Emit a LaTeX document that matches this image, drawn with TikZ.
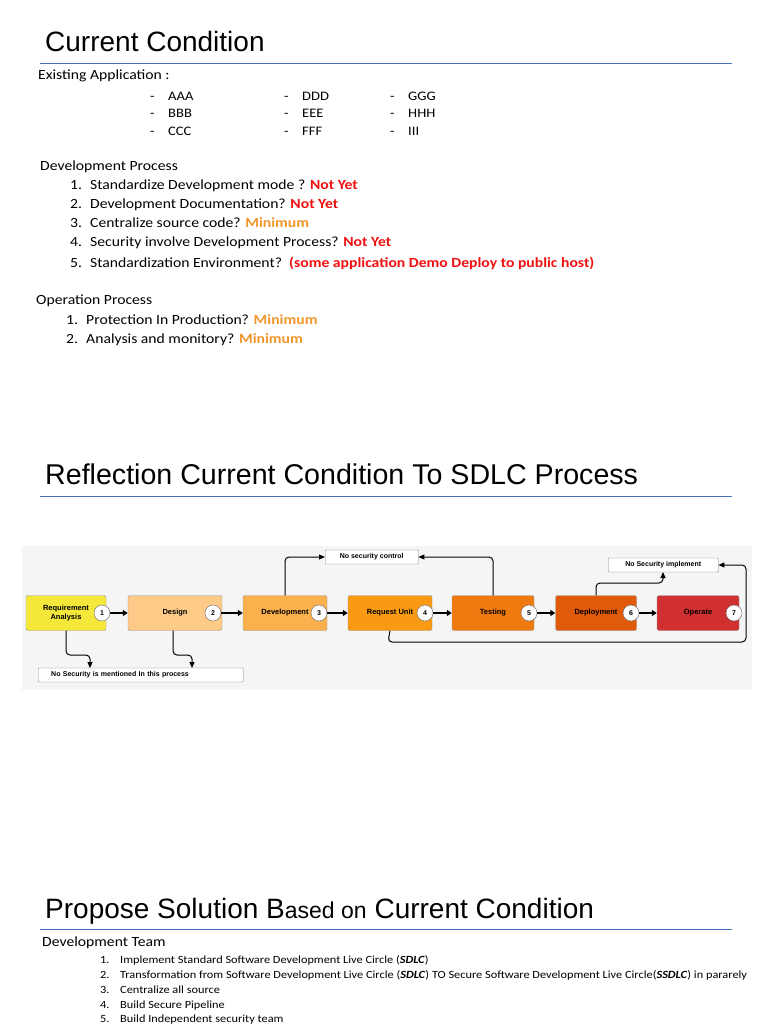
\documentclass[tikz,border=0pt]{standalone}
\usepackage{fontspec}
\setmainfont[FakeStretch=1.12]{Carlito}
\newfontfamily\arial{Liberation Sans}
\usetikzlibrary{arrows.meta}
\definecolor{rline}{HTML}{4A72C0}
\definecolor{nyred}{HTML}{F01010}
\definecolor{minor}{HTML}{F0962A}
\begin{document}
\begin{tikzpicture}[x=1pt,y=-1pt,
 tl/.style={anchor=base west,inner sep=0pt,font=\arial\fontsize{28}{30}\selectfont},
 tx/.style={anchor=west,inner sep=0pt,text height=9pt,text depth=3pt,font=\fontsize{14}{16}\selectfont},
 sm/.style={anchor=west,inner sep=0pt,text height=7pt,text depth=2pt,font=\fontsize{11}{12}\selectfont},
 stage/.style={draw=black!40,rounded corners=1.5pt,minimum width=#1,minimum height=35pt,inner sep=0pt,font=\arial\bfseries\fontsize{7.5}{8.5}\selectfont,align=center},
 num/.style={circle,draw=black!60,fill=white,minimum size=16pt,inner sep=0pt,font=\arial\bfseries\fontsize{7}{8}\selectfont},
 note/.style={draw=black!50,fill=white,rounded corners=1pt,anchor=west,minimum height=14pt,inner sep=0pt,font=\arial\bfseries\fontsize{7}{8}\selectfont},
 ar/.style={-{Triangle[length=6pt,width=5pt]},line width=1pt,rounded corners=4pt},
 thick arrow/.style={-{Triangle[length=5pt,width=6pt]},line width=2pt}]
\useasboundingbox[fill=white] (0,0) rectangle (768,1024);
% Section 1
\node[tl] (t1) at (45,52) {Current Condition};
\draw[rline,line width=0.8pt] (40,63) -- (732,63);
\node[tx] (ea) at (38,77) {Existing Application :};
\foreach \n/\x/\y/\t in {a/168/98/AAA,b/168/115/BBB,c/168/133/CCC,d/302/98/DDD,e/302/115/EEE,f/302/133/FFF,g/408/98/GGG,h/408/115/HHH,i/408/133/III}{
 \node[tx,font=\fontsize{13}{14}\selectfont] (d\n) at (\x-18,\y) {-};
 \node[tx,font=\fontsize{13}{14}\selectfont] (l\n) at (\x,\y) {\t};}
\node[tx] (dp) at (40,168) {Development Process};
\node[tx] (p1n) at (70,187) {1.};\node[tx] (p1) at (90,187) {Standardize Development mode ? \textcolor{nyred}{\textbf{Not Yet}}};
\node[tx] (p2n) at (70,206) {2.};\node[tx] (p2) at (90,206) {Development Documentation? \textcolor{nyred}{\textbf{Not Yet}}};
\node[tx] (p3n) at (70,225) {3.};\node[tx] (p3) at (90,225) {Centralize source code? \textcolor{minor}{\textbf{Minimum}}};
\node[tx] (p4n) at (70,244) {4.};\node[tx] (p4) at (90,244) {Security involve Development Process? \textcolor{nyred}{\textbf{Not Yet}}};
\node[tx] (p5n) at (70,264) {5.};\node[tx] (p5) at (90,264) {Standardization Environment?\ \ \textcolor{nyred}{\textbf{(some application Demo Deploy to public host)}}};
\node[tx] (op) at (36,301) {Operation Process};
\node[tx] (o1n) at (66,321) {1.};\node[tx] (o1) at (86,321) {Protection In Production? \textcolor{minor}{\textbf{Minimum}}};
\node[tx] (o2n) at (66,340) {2.};\node[tx] (o2) at (86,340) {Analysis and monitory? \textcolor{minor}{\textbf{Minimum}}};
% Section 2
\node[tl,font=\arial\fontsize{28.6}{30}\selectfont] (t2) at (45,484) {Reflection Current Condition To SDLC Process};
\draw[rline,line width=0.8pt] (40,496) -- (732,496);
\fill[black!4] (22,546) rectangle (752,690);
\node[stage=80pt,fill={rgb,255:red,245;green,232;blue,58}] (s1) at (66,613) {Requirement\\Analysis};
\node[stage=94pt,fill={rgb,255:red,253;green,203;blue,135}] (s2) at (175,613) {Design};
\node[stage=84pt,fill={rgb,255:red,251;green,176;blue,78}] (s3) at (285,613) {Development};
\node[stage=84pt,fill={rgb,255:red,249;green,154;blue,18}] (s4) at (390,613) {Request Unit};
\node[stage=82pt,fill={rgb,255:red,240;green,122;blue,16}] (s5) at (493,613) {Testing};
\node[stage=81pt,fill={rgb,255:red,224;green,90;blue,12}] (s6) at (596,613) {Deployment};
\node[stage=82pt,fill={rgb,255:red,208;green,48;blue,48}] (s7) at (698,613) {Operate};
\node[num] (n1) at (102,613) {1};
\node[num] (n2) at (213,613) {2};
\node[num] (n3) at (319,613) {3};
\node[num] (n4) at (425,613) {4};
\node[num] (n5) at (529,613) {5};
\node[num] (n6) at (631,613) {6};
\node[num] (n7) at (734,613) {7};
\draw[thick arrow] (n1) -- (s2);
\draw[thick arrow] (n2) -- (s3);
\draw[thick arrow] (n3) -- (s4);
\draw[thick arrow] (n4) -- (s5);
\draw[thick arrow] (n5) -- (s6);
\draw[thick arrow] (n6) -- (s7);
\node[note,minimum width=93pt] (nc) at (325,557) {No security control};
\node[note,minimum width=110pt] (ni) at (608,565) {No Security implement};
\node[note,minimum width=205pt,anchor=west,align=left,text width=195pt] (nm) at (38,675) {\hspace*{8pt}No Security is mentioned In this process};
\coordinate (c1) at (90,668);\coordinate (c2) at (192,668);
\draw[ar] (s1.south) -- (66,655) -| (c1);
\draw[ar] (173,630.5) -- (173,655) -| (c2);
\draw[ar] (s3.north) |- (nc.west);
\draw[ar] (s5.north) |- (nc.east);
\draw[ar] (s6.north) -- (596,583) -| (663,572);
\draw[ar] (s4.south) -- (388,642) -- (746,642) -- (746,565) -- (ni.east);
% Section 3
\node[tl] (t3) at (45,918) {Propose Solution B{\fontsize{23}{25}\selectfont ased on} Current Condition};
\draw[rline,line width=0.8pt] (40,929) -- (732,929);
\node[tx] (dt) at (42,943) {Development Team};
\node[sm] (q1n) at (100,961) {1.};\node[sm] (q1) at (120,961) {Implement Standard Software Development Live Circle (\textbf{\textit{SDLC}})};
\node[sm] (q2n) at (100,976) {2.};\node[sm] (q2) at (120,976) {Transformation from Software Development Live Circle (\textbf{\textit{SDLC}}) TO Secure Software Development Live Circle(\textbf{\textit{SSDLC}}) in pararely};
\node[sm] (q3n) at (100,991) {3.};\node[sm] (q3) at (120,991) {Centralize all source};
\node[sm] (q4n) at (100,1006) {4.};\node[sm] (q4) at (120,1006) {Build Secure Pipeline};
\node[sm] (q5n) at (100,1020) {5.};\node[sm] (q5) at (120,1020) {Build Independent security team};
\end{tikzpicture}
\end{document}
